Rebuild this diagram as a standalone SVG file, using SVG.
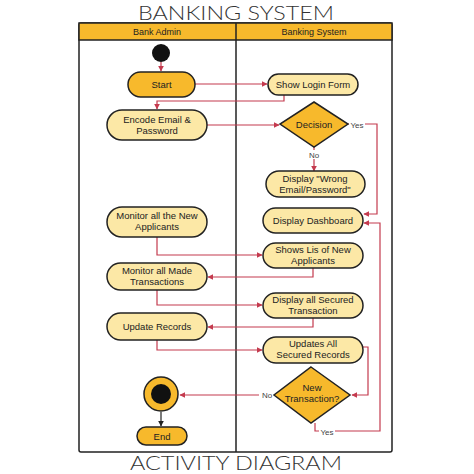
<svg xmlns="http://www.w3.org/2000/svg" width="474" height="474" viewBox="0 0 474 474">
<defs>
<style>
.title{font-family:Lato,"Open Sans","Liberation Sans",sans-serif;font-weight:300;font-size:20px;fill:#333;text-anchor:middle}
.hdr{font-family:"Liberation Sans",Arial,sans-serif;font-size:9px;fill:#222;text-anchor:middle}
.t{font-family:"Liberation Sans",Arial,sans-serif;font-size:9.5px;fill:#222;text-anchor:middle}
.lbl{font-family:"Liberation Sans",Arial,sans-serif;font-size:8px;fill:#444;text-anchor:middle}
.act{fill:#fce8a6;stroke:#222;stroke-width:1.5}
.key{fill:#f7b92c;stroke:#222;stroke-width:1.5}
.c{fill:none;stroke:#c43a4e;stroke-width:1.2;marker-end:url(#ar)}
</style>
<marker id="ar" viewBox="0 0 10 10" refX="9" refY="5" markerWidth="6" markerHeight="6" orient="auto" markerUnits="userSpaceOnUse"><path d="M0,0 L10,5 L0,10 z" fill="#c43a4e"/></marker>
<marker id="ak" viewBox="0 0 10 10" refX="9" refY="5" markerWidth="6" markerHeight="6" orient="auto" markerUnits="userSpaceOnUse"><path d="M0,0 L10,5 L0,10 z" fill="#222"/></marker>
</defs>
<rect width="474" height="474" fill="#fff"/>
<text class="title" x="236" y="20" textLength="196" lengthAdjust="spacingAndGlyphs">BANKING SYSTEM</text>
<text class="title" x="236" y="469.5" textLength="212" lengthAdjust="spacingAndGlyphs">ACTIVITY DIAGRAM</text>
<g id="lanes">
<rect x="79" y="23" width="313" height="429" rx="2" fill="#fff" stroke="#222" stroke-width="1.5"/>
<rect x="79" y="23" width="313" height="17" fill="#f7b92c" stroke="#222" stroke-width="1.5"/>
<line x1="236" y1="23" x2="236" y2="452" stroke="#222" stroke-width="1.5"/>
<text class="hdr" x="157" y="35">Bank Admin</text>
<text class="hdr" x="314" y="35">Banking System</text>
</g>
<g id="connectors">
<path class="c" d="M161,62 V71"/>
<path class="c" d="M195,84 H267"/>
<path class="c" d="M284,95 V101 H157 V109"/>
<path class="c" d="M207,125 H279"/>
<path class="c" d="M348,124 H377 V214 H364"/>
<path class="c" d="M314,147 V171"/>
<path class="c" d="M157,237 V255 H262"/>
<path class="c" d="M313,268 V277 H208"/>
<path class="c" d="M157,290 V305 H262"/>
<path class="c" d="M313,318 V327 H208"/>
<path class="c" d="M157,340 V350 H262"/>
<path class="c" d="M363,347 H368 V395 H352"/>
<path class="c" d="M274,395 H180"/>
<path class="c" d="M315,423 V431 H380 V223 H364"/>
<path d="M161,412 V426" fill="none" stroke="#222" stroke-width="1.2" marker-end="url(#ak)"/>
<rect x="259" y="390" width="16" height="9" fill="#fff"/>
<text class="lbl" x="267" y="398">No</text>
<rect x="349" y="120" width="16" height="9" fill="#fff"/>
<text class="lbl" x="357" y="128">Yes</text>
<rect x="307" y="150" width="14" height="9" fill="#fff"/>
<text class="lbl" x="314" y="158">No</text>
<rect x="319" y="427" width="16" height="9" fill="#fff"/>
<text class="lbl" x="327" y="435">Yes</text>
</g>
<g id="initial"><circle cx="161" cy="53" r="9" fill="#111"/></g>
<g id="start"><rect class="key" x="128" y="72" width="67" height="25" rx="12.5"/><text class="t" x="161.5" y="88">Start</text></g>
<g id="login"><rect class="act" x="268" y="74" width="90" height="21" rx="10.5"/><text class="t" x="313" y="88">Show Login Form</text></g>
<g id="encode"><rect class="act" x="107" y="110" width="100" height="30" rx="15"/><text class="t" x="157" y="123">Encode Email &amp;</text><text class="t" x="157" y="134">Password</text></g>
<g id="decision"><path class="key" d="M314,102 L348,124 L314,147 L280,124 Z"/><text class="t" x="314" y="128">Decision</text></g>
<g id="wrong"><rect class="act" x="266" y="171" width="99" height="26" rx="13"/><text class="t" x="315" y="182">Display "Wrong</text><text class="t" x="315" y="193">Email/Password"</text></g>
<g id="dashboard"><rect class="act" x="263" y="208" width="100" height="25" rx="12.5"/><text class="t" x="313" y="224">Display Dashboard</text></g>
<g id="monitorNew"><rect class="act" x="107" y="207" width="100" height="30" rx="15"/><text class="t" x="157" y="219">Monitor all the New</text><text class="t" x="157" y="230">Applicants</text></g>
<g id="showsList"><rect class="act" x="263" y="243" width="100" height="25" rx="12.5"/><text class="t" x="313" y="253">Shows Lis of New</text><text class="t" x="313" y="264">Applicants</text></g>
<g id="monitorTx"><rect class="act" x="107" y="263" width="100" height="27" rx="13.5"/><text class="t" x="157" y="274">Monitor all Made</text><text class="t" x="157" y="285">Transactions</text></g>
<g id="displaySecured"><rect class="act" x="263" y="293" width="100" height="25" rx="12.5"/><text class="t" x="313" y="303">Display all Secured</text><text class="t" x="313" y="314">Transaction</text></g>
<g id="updateRecords"><rect class="act" x="107" y="313" width="100" height="27" rx="13.5"/><text class="t" x="157" y="330">Update Records</text></g>
<g id="updatesAll"><rect class="act" x="263" y="337" width="100" height="26" rx="13"/><text class="t" x="313" y="347">Updates All</text><text class="t" x="313" y="358">Secured Records</text></g>
<g id="newTx"><path class="key" d="M311,367 L350,395 L311,423 L274,395 Z"/><text class="t" x="312" y="391">New</text><text class="t" x="312" y="402">Transaction?</text></g>
<g id="final"><circle cx="161" cy="394" r="17" fill="#f7b92c" stroke="#222" stroke-width="1.5"/><circle cx="161" cy="394" r="10" fill="#111"/></g>
<g id="end"><rect class="key" x="137" y="427" width="50" height="18" rx="9"/><text class="t" x="162" y="440">End</text></g>
</svg>
